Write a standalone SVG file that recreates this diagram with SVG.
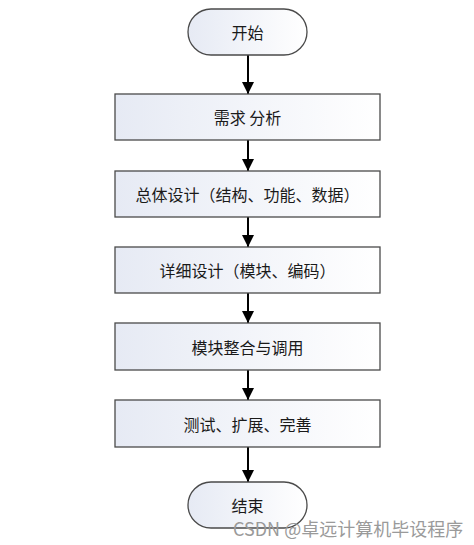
<svg xmlns="http://www.w3.org/2000/svg" width="474" height="545" viewBox="0 0 474 545">
  <style>
    .box { fill: url(#g); stroke: #4a4a4a; stroke-width: 1.3; }
    .lbl { font-family: "Noto Sans CJK SC", "Liberation Sans", sans-serif; font-size: 16px; fill: #1a1a1a; text-anchor: middle; dominant-baseline: central; }
    .conn { stroke: #000; stroke-width: 2; fill: none; marker-end: url(#ah); }
    .wm { font-family: "Noto Sans CJK SC", "Liberation Sans", sans-serif; font-size: 18px; fill: #9a9a9a; }
  </style>
  <defs>
    <linearGradient id="g" x1="0" y1="0" x2="1" y2="0">
      <stop offset="0" stop-color="#e6eaf4"/>
      <stop offset="1" stop-color="#ffffff"/>
    </linearGradient>
    <marker id="ah" markerUnits="userSpaceOnUse" markerWidth="12" markerHeight="14" refX="12" refY="6" orient="auto">
      <path d="M0,0 L12,6 L0,12 Z" fill="#000"/>
    </marker>
  </defs>
  <rect width="474" height="545" fill="#fff"/>
  <g id="connectors">
    <line class="conn" x1="248" y1="55" x2="248" y2="94"/>
    <line class="conn" x1="248" y1="140" x2="248" y2="171"/>
    <line class="conn" x1="248" y1="217" x2="248" y2="247"/>
    <line class="conn" x1="248" y1="293" x2="248" y2="323"/>
    <line class="conn" x1="248" y1="370" x2="248" y2="400"/>
    <line class="conn" x1="248" y1="447" x2="248" y2="482"/>
  </g>
  <g id="start">
    <rect class="box" x="188" y="9" width="119" height="46" rx="23" ry="23"/>
    <text class="lbl" x="247.5" y="32">开始</text>
  </g>
  <g id="n1">
    <rect class="box" x="115" y="94" width="265" height="46"/>
    <text class="lbl" x="247.5" y="117">需求 分析</text>
  </g>
  <g id="n2">
    <rect class="box" x="115" y="171" width="265" height="46"/>
    <text class="lbl" x="247.5" y="194">总体设计（结构、功能、数据）</text>
  </g>
  <g id="n3">
    <rect class="box" x="115" y="247" width="265" height="46"/>
    <text class="lbl" x="247.5" y="270">详细设计（模块、编码）</text>
  </g>
  <g id="n4">
    <rect class="box" x="115" y="323" width="265" height="47"/>
    <text class="lbl" x="247.5" y="346.5">模块整合与调用</text>
  </g>
  <g id="n5">
    <rect class="box" x="115" y="400" width="265" height="47"/>
    <text class="lbl" x="247.5" y="423.5">测试、扩展、完善</text>
  </g>
  <g id="end">
    <rect class="box" x="188" y="482" width="119" height="46" rx="23" ry="23"/>
    <text class="lbl" x="247.5" y="505">结束</text>
  </g>
  <text class="wm" x="233" y="536">CSDN @卓远计算机毕设程序</text>
</svg>
